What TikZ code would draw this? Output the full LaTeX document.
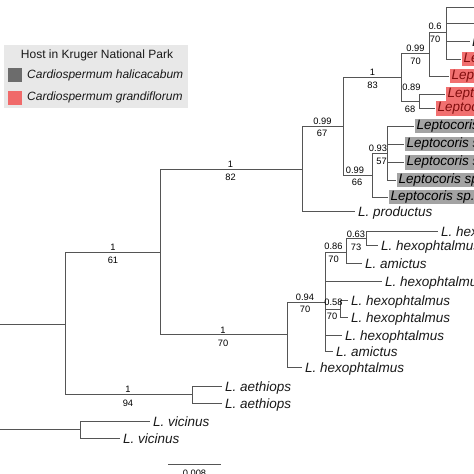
\documentclass[tikz,border=0pt]{standalone}
\usepackage{fontspec}
\setmainfont{Liberation Sans}
\definecolor{treegray}{HTML}{555555}
\definecolor{redbg}{RGB}{241,112,112}
\definecolor{redtext}{RGB}{130,14,14}
\definecolor{graybg}{RGB}{163,163,163}
\definecolor{legbg}{RGB}{232,232,232}
\definecolor{swgray}{RGB}{108,108,108}
\definecolor{swred}{RGB}{240,106,106}
\definecolor{tiptext}{RGB}{25,25,25}
\newcommand{\tipfont}{\fontsize{13.5}{15}\selectfont\itshape}
\newcommand{\suppfont}{\fontsize{9.3}{10}\selectfont}
\newcommand{\legfont}{\fontsize{12}{13}\selectfont}
\newcommand{\lepto}{\makebox[95pt][l]{Leptocoris sp.}}
\begin{document}
\begin{tikzpicture}[x=1pt,y=-1pt,
  br/.style={draw=treegray,line width=1pt},
  tip/.style={anchor=west,inner xsep=3pt,inner ysep=0pt,text height=12pt,text depth=1.5pt,font=\tipfont,text=tiptext},
  hl/.style={anchor=west,inner xsep=1.5pt,inner ysep=0.8pt,outer xsep=1pt,outer ysep=0pt,text height=9.5pt,text depth=3.5pt,font=\tipfont},
  redtip/.style={hl,fill=redbg,text=redtext},
  graytip/.style={hl,fill=graybg,text=black},
  supp/.style={font=\suppfont,inner sep=0pt,text=black},
]
\useasboundingbox (0,0) rectangle (474,474);
\clip (0,0) rectangle (474,474);

% ---------- internal nodes ----------
\coordinate (inA) at (-5,324);
\coordinate (cA) at (65,324);
\coordinate (c61) at (160,252.5);
\coordinate (c82) at (302,169);
\coordinate (c67) at (343,126.5);
\coordinate (c83) at (401,77);
\coordinate (c70a) at (429,53.5);
\coordinate (c06) at (446,32);
\coordinate (c89) at (419,101.5);
\coordinate (c66) at (372,175);
\coordinate (c93) at (387,153);
\coordinate (c70b) at (287,334.5);
\coordinate (c94) at (325,302);
\coordinate (c86) at (346,252);
\coordinate (c63) at (366,238.5);
\coordinate (c58) at (340,309);
\coordinate (cAe) at (192,394.5);
\coordinate (inV) at (-5,429.5);
\coordinate (cV) at (80,429.5);

% ---------- tips ----------
\node[tip] (t1) at (490,7) {Leptocoris sp.};
\node[tip] (t2) at (490,23) {Leptocoris sp.};
\node[tip,inner xsep=2pt] (t3) at (470,41) {L. sp.};
\node[redtip] (t4) at (461,59) {\lepto};
\node[redtip] (t5) at (449,76) {\lepto};
\node[redtip] (t6) at (445,94) {\lepto};
\node[redtip] (t7) at (435,108.5) {\lepto};
\node[graytip] (g1) at (414,126) {\lepto};
\node[graytip] (g2) at (404,144) {\lepto};
\node[graytip] (g3) at (404,162.5) {\lepto};
\node[graytip] (g4) at (396,180) {\lepto};
\node[graytip] (g5) at (388,197) {\lepto};
\node[tip] (prod) at (355,211.5) {L. productus};
\node[tip] (he1) at (438,231.5) {L. hexophtalmus};
\node[tip] (hex2) at (378,245) {L. hexophtalmus};
\node[tip] (am1) at (362,263) {L. amictus};
\node[tip] (hexA) at (382,281.5) {L. hexophtalmus};
\node[tip] (hex3) at (348,300.5) {L. hexophtalmus};
\node[tip] (hex4) at (348,317.5) {L. hexophtalmus};
\node[tip] (hexB) at (342,335) {L. hexophtalmus};
\node[tip] (am2) at (333,351.7) {L. amictus};
\node[tip] (hexC) at (302,367) {L. hexophtalmus};
\node[tip] (ae1) at (222,386) {L. aethiops};
\node[tip] (ae2) at (222,403) {L. aethiops};
\node[tip] (v1) at (150,421) {L. vicinus};
\node[tip] (v2) at (120,438) {L. vicinus};

% ---------- branches ----------
\draw[br] (inA) -- (cA);
\draw[br] (cA) |- (c61);
\draw[br] (cA) |- (cAe);
\draw[br] (c61) |- (c82);
\draw[br] (c61) |- (c70b);
\draw[br] (c82) |- (c67);
\draw[br] (c82) |- (prod.west);
\draw[br] (c67) |- (c83);
\draw[br] (c67) |- (c66);
\draw[br] (c83) |- (c70a);
\draw[br] (c83) |- (c89);
\draw[br] (c70a) |- (c06);
\draw[br] (c70a) |- (t5.west);
\draw[br] (c06) |- (t1.west);
\draw[br] (c06) |- (t2.west);
\draw[br] (c06) |- (t3.west);
\draw[br] (c06) |- (t4.west);
\draw[br] (c89) |- (t6.west);
\draw[br] (c89) |- (t7.west);
\draw[br] (c66) |- (c93);
\draw[br] (c66) |- (g5.west);
\draw[br] (c93) |- (g1.west);
\draw[br] (c93) |- (g2.west);
\draw[br] (c93) |- (g3.west);
\draw[br] (c93) |- (g4.west);
\draw[br] (c70b) |- (c94);
\draw[br] (c70b) |- (hexC.west);
\draw[br] (c94) |- (c86);
\draw[br] (c94) |- (hexA.west);
\draw[br] (c94) |- (c58);
\draw[br] (c94) |- (hexB.west);
\draw[br] (c94) |- (am2.west);
\draw[br] (c86) |- (c63);
\draw[br] (c86) |- (am1.west);
\draw[br] (c63) |- (he1.west);
\draw[br] (c63) |- (hex2.west);
\draw[br] (c58) |- (hex3.west);
\draw[br] (c58) |- (hex4.west);
\draw[br] (cAe) |- (ae1.west);
\draw[br] (cAe) |- (ae2.west);
\draw[br] (inV) -- (cV);
\draw[br] (cV) |- (v1.west);
\draw[br] (cV) |- (v2.west);

% ---------- support values ----------
\node[supp] (s61a) at (113,247.5) {1};
\node[supp] (s61b) at (113,260) {61};
\node[supp] (s82a) at (230.5,164.5) {1};
\node[supp] (s82b) at (230.5,177.5) {82};
\node[supp] (s67a) at (322.5,121) {0.99};
\node[supp] (s67b) at (322,133.5) {67};
\node[supp] (s83a) at (372.5,72.5) {1};
\node[supp] (s83b) at (372.5,85) {83};
\node[supp] (s70a) at (415.5,48.5) {0.99};
\node[supp] (s70b) at (415.5,61.5) {70};
\node[supp] (s06a) at (435,26.5) {0.6};
\node[supp] (s06b) at (435,39.5) {70};
\node[supp] (s89a) at (411.5,87.5) {0.89};
\node[supp] (s89b) at (410,109) {68};
\node[supp] (s66a) at (355,170) {0.99};
\node[supp] (s66b) at (357,182) {66};
\node[supp] (s93a) at (378,148) {0.93};
\node[supp] (s93b) at (381.5,161.5) {57};
\node[supp] (s70c) at (223,330) {1};
\node[supp] (s70d) at (223,343.5) {70};
\node[supp] (s94a) at (305,297.5) {0.94};
\node[supp] (s94b) at (305,309.5) {70};
\node[supp] (s86a) at (333.5,246) {0.86};
\node[supp] (s86b) at (333.5,259.5) {70};
\node[supp] (s63a) at (356,234.5) {0.63};
\node[supp] (s63b) at (356,247.5) {73};
\node[supp] (s58a) at (333.5,302.5) {0.58};
\node[supp] (s58b) at (332,316.5) {70};
\node[supp] (s94c) at (128,389.5) {1};
\node[supp] (s94d) at (128,403.5) {94};

% ---------- legend ----------
\node[fill=legbg,anchor=north west,minimum width=184pt,minimum height=63pt,inner sep=0pt] (legbox) at (4,45) {};
\node[font=\legfont,inner sep=0pt,text=tiptext] (legtitle) at (97,55.5) {Host in Kruger National Park};
\node[fill=swgray,minimum width=14pt,minimum height=14pt,inner sep=0pt] (sw1) at (14.5,75) {};
\node[font=\legfont\itshape,anchor=west,inner sep=0pt,text=tiptext] (lg1) at (27,75) {Cardiospermum halicacabum};
\node[fill=swred,minimum width=14pt,minimum height=14pt,inner sep=0pt] (sw2) at (14.5,97.5) {};
\node[font=\legfont\itshape,anchor=west,inner sep=0pt,text=tiptext] (lg2) at (27,97.5) {Cardiospermum grandiflorum};

% ---------- scale bar ----------
\coordinate (sb1) at (168,464);
\coordinate (sb2) at (221,464);
\draw[br] (sb1) -- (sb2);
\node[supp] (sbl) at (194.5,473) {0.008};
\end{tikzpicture}
\end{document}
